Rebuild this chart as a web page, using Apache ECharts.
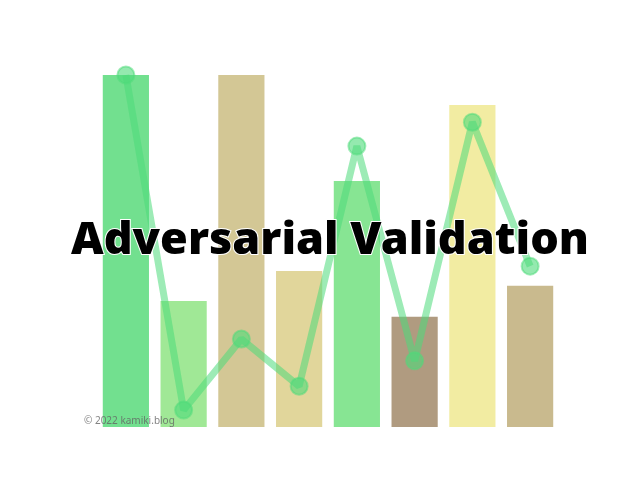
<!DOCTYPE html>
<html>
<head>
<meta charset="utf-8">
<script src="https://cdn.jsdelivr.net/npm/echarts@6/dist/echarts.min.js"></script>
<style>
html,body{margin:0;padding:0;background:#fff;}
#main{width:640px;height:480px;}
</style>
</head>
<body>
<div id="main"></div>
<script>
// data
var categories = ['a', 'b', 'c', 'd', 'e', 'f', 'g', 'h'];
var barValues = [100, 35.8, 100, 44.3, 69.9, 31.3, 91.5, 40.1];
var barColors = ['#72e08f', '#a0e896', '#d3c795', '#e1d69b', '#87e593', '#b09b80', '#f2eca2', '#c9ba8e'];
var lineValues = [100, 4.8, 25.0, 11.6, 79.8, 18.8, 86.6, 45.7];

var chart = function () {
    var myChart = echarts.init(document.getElementById('main'));
    var barData = barValues.map(function (v, i) {
        return {value: v, itemStyle: {color: barColors[i]}};
    });
    var option = {
        animation: false,
        backgroundColor: '#ffffff',
        grid: {left: 97, right: 81, top: 75, bottom: 53},
        xAxis: {
            type: 'category',
            data: categories,
            show: false
        },
        yAxis: {
            type: 'value',
            min: 0,
            max: 100,
            show: false
        },
        title: [
            {
                text: 'Adversarial Validation',
                left: 66,
                top: 214,
                textStyle: {
                    fontFamily: 'Noto Sans',
                    fontWeight: 900,
                    fontSize: 45,
                    color: '#000',
                    textBorderColor: '#fff',
                    textBorderWidth: 2
                },
                z: 10
            },
            {
                text: '\u00a9 2022 kamiki.blog',
                left: 84,
                top: 416,
                padding: 0,
                textStyle: {
                    fontFamily: 'Noto Sans',
                    fontWeight: 'normal',
                    fontSize: 10,
                    color: 'rgba(100,100,100,0.8)'
                },
                z: 10
            }
        ],
        series: [
            {
                type: 'bar',
                data: barData,
                barCategoryGap: '20%',
                z: 1
            },
            {
                type: 'line',
                data: lineValues,
                symbol: 'circle',
                symbolSize: 17,
                lineStyle: {color: '#4ddb7a', width: 7, opacity: 0.55},
                itemStyle: {color: 'rgba(77,219,122,0.6)', borderColor: 'rgba(77,219,122,0.5)', borderWidth: 2},
                z: 2
            }
        ]
    };
    myChart.setOption(option);
};
chart();
</script>
</body>
</html>
